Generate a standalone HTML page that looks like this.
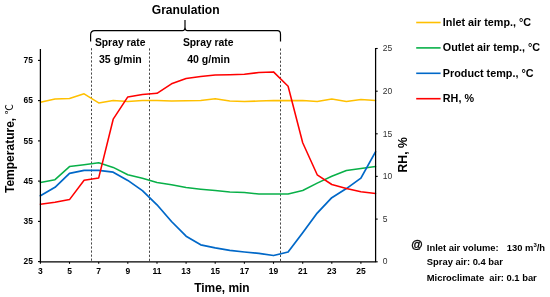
<!DOCTYPE html>
<html><head><meta charset="utf-8"><title>Granulation chart</title>
<style>
html,body{margin:0;padding:0;background:#fff;}
svg{display:block;}
text{font-family:"Liberation Sans","Noto Sans CJK SC",sans-serif;fill:#000;}
.b{font-weight:bold;}
.cj{font-family:"Noto Sans CJK SC","Noto Sans CJK JP",sans-serif;font-weight:normal;font-size:10.5px;}
</style></head><body>
<svg width="550" height="297" viewBox="0 0 550 297">
<rect width="550" height="297" fill="#fff"/>

<line x1="91.5" y1="48.2" x2="91.5" y2="261" stroke="#484848" stroke-width="1" stroke-dasharray="2.2 1.845"/>
<line x1="149.5" y1="48.4" x2="149.5" y2="261" stroke="#484848" stroke-width="1" stroke-dasharray="2.2 1.845"/>
<line x1="280.5" y1="48.5" x2="280.5" y2="261" stroke="#484848" stroke-width="1" stroke-dasharray="2.2 1.845"/>
<polyline fill="none" stroke="#FFC000" stroke-width="1.55" stroke-linejoin="round" stroke-linecap="round" points="40.4,102.2 55.0,99.1 69.5,98.5 84.1,93.8 98.7,102.9 113.2,100.4 127.8,101.4 142.4,100.5 157.0,100.5 171.5,101.0 186.1,100.7 200.7,100.5 215.2,98.7 229.8,101.0 244.4,101.5 258.9,101.0 273.5,100.6 288.1,100.6 302.7,100.6 317.2,101.4 331.8,99.1 346.4,101.4 360.9,99.6 375.5,100.6"/>
<polyline fill="none" stroke="#08B048" stroke-width="1.55" stroke-linejoin="round" stroke-linecap="round" points="40.4,182.5 55.0,179.7 69.5,166.6 84.1,164.8 98.7,162.8 113.2,167.4 127.8,174.8 142.4,178.3 157.0,182.4 171.5,184.7 186.1,187.5 200.7,189.2 215.2,190.6 229.8,192.0 244.4,192.6 258.9,194.0 273.5,194.0 288.1,193.9 302.7,190.5 317.2,183.1 331.8,176.3 346.4,170.5 360.9,168.5 375.5,166.6"/>
<polyline fill="none" stroke="#0068C8" stroke-width="1.75" stroke-linejoin="round" stroke-linecap="round" points="40.4,195.8 55.0,187.3 69.5,173.3 84.1,170.4 98.7,170.4 113.2,172.2 127.8,180.4 142.4,190.6 157.0,204.8 171.5,221.5 186.1,236.2 200.7,244.8 215.2,247.9 229.8,250.3 244.4,252.0 258.9,253.4 273.5,255.5 288.1,252.0 302.7,232.8 317.2,213.1 331.8,197.7 346.4,188.6 360.9,178.1 375.5,151.8"/>
<polyline fill="none" stroke="#FF0000" stroke-width="1.55" stroke-linejoin="round" stroke-linecap="round" points="40.4,204.2 55.0,202.2 69.5,199.6 84.1,180.2 98.7,177.9 113.2,119.2 127.8,96.9 142.4,94.6 157.0,93.3 171.5,83.8 186.1,78.4 200.7,76.6 215.2,75.1 229.8,74.8 244.4,74.3 258.9,72.5 273.5,71.9 288.1,86.3 302.7,142.7 317.2,174.8 331.8,184.5 346.4,188.6 360.9,191.7 375.5,193.5"/>
<path d="M40.4 49 V261.75 H375.6 V48.1" fill="none" stroke="#000" stroke-width="1.25" stroke-linejoin="miter"/>
<line x1="38" x2="40.4" y1="261.6" y2="261.6" stroke="#000" stroke-width="1.1"/>
<text class="b" x="32.8" y="264.2" font-size="8.4" text-anchor="end">25</text>
<line x1="38" x2="40.4" y1="221.4" y2="221.4" stroke="#000" stroke-width="1.1"/>
<text class="b" x="32.8" y="224.0" font-size="8.4" text-anchor="end">35</text>
<line x1="38" x2="40.4" y1="181.1" y2="181.1" stroke="#000" stroke-width="1.1"/>
<text class="b" x="32.8" y="183.7" font-size="8.4" text-anchor="end">45</text>
<line x1="38" x2="40.4" y1="140.9" y2="140.9" stroke="#000" stroke-width="1.1"/>
<text class="b" x="32.8" y="143.5" font-size="8.4" text-anchor="end">55</text>
<line x1="38" x2="40.4" y1="100.6" y2="100.6" stroke="#000" stroke-width="1.1"/>
<text class="b" x="32.8" y="103.2" font-size="8.4" text-anchor="end">65</text>
<line x1="38" x2="40.4" y1="60.4" y2="60.4" stroke="#000" stroke-width="1.1"/>
<text class="b" x="32.8" y="63.0" font-size="8.4" text-anchor="end">75</text>
<line x1="375.6" x2="377.7" y1="261.8" y2="261.8" stroke="#000" stroke-width="1.1"/>
<text x="382.7" y="264.4" font-size="8.5" style="fill:#303030">0</text>
<line x1="375.6" x2="377.7" y1="219.1" y2="219.1" stroke="#000" stroke-width="1.1"/>
<text x="382.7" y="221.8" font-size="8.5" style="fill:#303030">5</text>
<line x1="375.6" x2="377.7" y1="176.4" y2="176.4" stroke="#000" stroke-width="1.1"/>
<text x="382.7" y="179.1" font-size="8.5" style="fill:#303030">10</text>
<line x1="375.6" x2="377.7" y1="133.8" y2="133.8" stroke="#000" stroke-width="1.1"/>
<text x="382.7" y="136.5" font-size="8.5" style="fill:#303030">15</text>
<line x1="375.6" x2="377.7" y1="91.2" y2="91.2" stroke="#000" stroke-width="1.1"/>
<text x="382.7" y="93.9" font-size="8.5" style="fill:#303030">20</text>
<line x1="375.6" x2="377.7" y1="48.5" y2="48.5" stroke="#000" stroke-width="1.1"/>
<text x="382.7" y="51.2" font-size="8.5" style="fill:#303030">25</text>
<line x1="40.4" x2="40.4" y1="262" y2="263.8" stroke="#000" stroke-width="1.1"/>
<text class="b" x="40.4" y="274" font-size="8.5" text-anchor="middle">3</text>
<line x1="69.5" x2="69.5" y1="262" y2="263.8" stroke="#000" stroke-width="1.1"/>
<text class="b" x="69.5" y="274" font-size="8.5" text-anchor="middle">5</text>
<line x1="98.7" x2="98.7" y1="262" y2="263.8" stroke="#000" stroke-width="1.1"/>
<text class="b" x="98.7" y="274" font-size="8.5" text-anchor="middle">7</text>
<line x1="127.8" x2="127.8" y1="262" y2="263.8" stroke="#000" stroke-width="1.1"/>
<text class="b" x="127.8" y="274" font-size="8.5" text-anchor="middle">9</text>
<line x1="157.0" x2="157.0" y1="262" y2="263.8" stroke="#000" stroke-width="1.1"/>
<text class="b" x="157.0" y="274" font-size="8.5" text-anchor="middle">11</text>
<line x1="186.1" x2="186.1" y1="262" y2="263.8" stroke="#000" stroke-width="1.1"/>
<text class="b" x="186.1" y="274" font-size="8.5" text-anchor="middle">13</text>
<line x1="215.2" x2="215.2" y1="262" y2="263.8" stroke="#000" stroke-width="1.1"/>
<text class="b" x="215.2" y="274" font-size="8.5" text-anchor="middle">15</text>
<line x1="244.4" x2="244.4" y1="262" y2="263.8" stroke="#000" stroke-width="1.1"/>
<text class="b" x="244.4" y="274" font-size="8.5" text-anchor="middle">17</text>
<line x1="273.5" x2="273.5" y1="262" y2="263.8" stroke="#000" stroke-width="1.1"/>
<text class="b" x="273.5" y="274" font-size="8.5" text-anchor="middle">19</text>
<line x1="302.7" x2="302.7" y1="262" y2="263.8" stroke="#000" stroke-width="1.1"/>
<text class="b" x="302.7" y="274" font-size="8.5" text-anchor="middle">21</text>
<line x1="331.8" x2="331.8" y1="262" y2="263.8" stroke="#000" stroke-width="1.1"/>
<text class="b" x="331.8" y="274" font-size="8.5" text-anchor="middle">23</text>
<line x1="360.9" x2="360.9" y1="262" y2="263.8" stroke="#000" stroke-width="1.1"/>
<text class="b" x="360.9" y="274" font-size="8.5" text-anchor="middle">25</text>
<text class="b" x="221.9" y="292.4" font-size="11.95" text-anchor="middle">Time, min</text>
<text class="b" transform="translate(14.0 193.0) rotate(-90)" font-size="12">Temperature, <tspan class="cj" dy="-0.8">℃</tspan></text>
<text class="b" transform="translate(407.3 172.4) rotate(-90)" font-size="12.15">RH, %</text>
<text class="b" x="185.7" y="14.0" font-size="12.1" text-anchor="middle">Granulation</text>
<path d="M90.6 41.6 V35 Q90.6 30.7 94.8 30.7 H182.4 Q185 30.7 185 27 V20 M185 27 Q185 30.7 187.6 30.7 H277.4 Q280.5 30.7 280.5 34.2 V41.6" fill="none" stroke="#000" stroke-width="1.2"/>
<text class="b" x="120.2" y="46.1" font-size="10.35" text-anchor="middle">Spray rate</text>
<text class="b" x="120.4" y="63.2" font-size="10.55" text-anchor="middle">35 g/min</text>
<text class="b" x="208.2" y="45.9" font-size="10.35" text-anchor="middle">Spray rate</text>
<text class="b" x="208.6" y="62.9" font-size="10.55" text-anchor="middle">40 g/min</text>
<line x1="416.2" x2="440.6" y1="22.5" y2="22.5" stroke="#FFC000" stroke-width="1.6"/>
<text class="b" x="442.8" y="26.4" font-size="10.8">Inlet air temp., °C</text>
<line x1="416.2" x2="440.6" y1="47.9" y2="47.9" stroke="#08B048" stroke-width="1.6"/>
<text class="b" x="442.8" y="51.2" font-size="10.8">Outlet air temp., °C</text>
<line x1="416.2" x2="440.6" y1="73.3" y2="73.3" stroke="#0068C8" stroke-width="1.6"/>
<text class="b" x="442.8" y="76.7" font-size="10.8">Product temp., °C</text>
<line x1="416.2" x2="440.6" y1="98.7" y2="98.7" stroke="#FF0000" stroke-width="1.6"/>
<text class="b" x="442.8" y="102.0" font-size="10.8">RH, %</text>
<text class="b" x="411.3" y="247.7" font-size="11.7" stroke="#000" stroke-width="0.3">@</text>
<text class="b" x="426.8" y="250.6" font-size="9.4">Inlet air volume:</text>
<text class="b" x="506.8" y="250.6" font-size="9.4">130 m<tspan font-size="6" dy="-3.4">3</tspan><tspan dy="3.4">/h</tspan></text>
<text class="b" x="426.8" y="264.9" font-size="9.4">Spray air: 0.4 bar</text>
<text class="b" x="426.8" y="281.2" font-size="9.4" xml:space="preserve">Microclimate  air: 0.1 bar</text>
</svg></body></html>
